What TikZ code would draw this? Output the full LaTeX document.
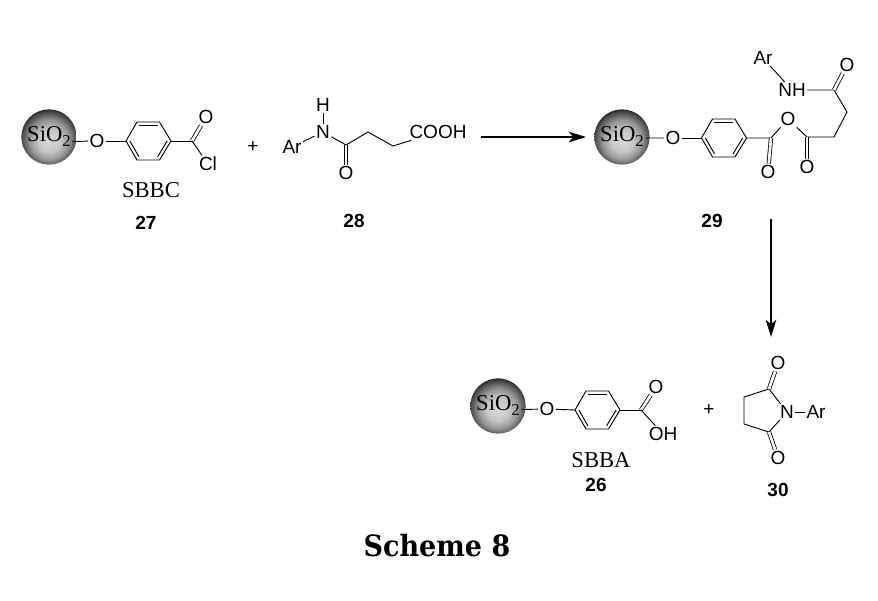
\documentclass[tikz,border=0pt]{standalone}
\usepackage{fontspec}
\setmainfont{Liberation Sans}
\newfontfamily\labelfont{Liberation Serif}
\newfontfamily\schemefont[FakeStretch=0.92]{DejaVu Serif}
\usetikzlibrary{arrows.meta}
\usetikzlibrary{calc}
\pgfdeclareradialshading{sphereball}{\pgfpoint{0bp}{-4bp}}{%
  color(0bp)=(black!15); color(10bp)=(black!22); color(18bp)=(black!42);
  color(24bp)=(black!68); color(28bp)=(black!90); color(31bp)=(black); color(50bp)=(black)}
\tikzset{
  atom/.style={inner sep=1pt,font=\fontsize{14.25}{16}\selectfont},
  numlabel/.style={inner sep=0pt,font=\fontsize{14.25}{16}\selectfont\bfseries},
  namelabel/.style={inner sep=0pt,font=\fontsize{17}{19}\selectfont\labelfont},
  sphere/.style={circle,inner sep=0pt,minimum size=41.5pt,shading=sphereball,
    font=\fontsize{17}{19}\selectfont\labelfont},
  bond/.style={line width=0.7pt},
  link/.style={line width=0.7pt,shorten <=-3pt},
  dbond/.style={line width=0.6pt,double,double distance=2pt},
  reaction/.style={line width=0.85pt,-{Stealth[length=13pt,width=8pt,inset=3.5pt]}}
}
% ring with its six corners named from #1
\newcommand{\phring}[3]{%
  \coordinate (#1l) at (#2-22.5,#3);
  \coordinate (#1tl) at (#2-11.5,#3-19);
  \coordinate (#1tr) at (#2+11,#3-19);
  \coordinate (#1r) at (#2+22.5,#3);
  \coordinate (#1br) at (#2+11,#3+19);
  \coordinate (#1bl) at (#2-11.5,#3+19);
  \coordinate (#1c) at (#2,#3);
  \draw [bond] (#1l) -- (#1tl) -- (#1tr) -- (#1r) -- (#1br) -- (#1bl) -- cycle;
  \draw [bond] ($(#1tl)!0.17!(#1c)$) -- ($(#1tr)!0.17!(#1c)$);
  \draw [bond] ($(#1l)!0.17!(#1c)$) -- ($(#1bl)!0.17!(#1c)$);
  \draw [bond] ($(#1r)!0.17!(#1c)$) -- ($(#1br)!0.17!(#1c)$);
}
\newcommand{\silica}{\smash{\raisebox{-3pt}{SiO}\raisebox{-6.75pt}{\fontsize{12.5}{14}\selectfont 2}}}
\begin{document}
\begin{tikzpicture}[x=0.75pt,y=0.75pt,yscale=-1,xscale=1]
\useasboundingbox (0,0) rectangle (878,600);

%compound 27
\node [sphere] (sphA) at (49,137) {\silica};
\node [atom] (oA) at (97,141) {O};
\phring{ringA}{148.5}{141}
\coordinate (cA) at (192,141);
\node [atom] (oaA) at (206,117) {O};
\node [atom] (clA) at (208,164) {Cl};
\draw [link] (sphA.-9) -- (oA);
\draw [bond] (oA) -- (ringAl);
\draw [bond] (ringAr) -- (cA);
\draw [dbond] (cA) -- (oaA);
\draw [bond] (cA) -- (clA);
\node [namelabel] (nameA) at (151,190) {SBBC};
\node [numlabel] (numA) at (146,223) {27};

%plus
\node [atom] (plusA) at (253,147) {+};

%compound 28
\node [atom] (arB) at (292,147) {Ar};
\node [atom] (nB) at (323,132) {N};
\node [atom] (hB) at (323,105) {H};
\coordinate (c1B) at (346,145);
\coordinate (c2B) at (368,132);
\coordinate (c3B) at (393,146);
\node [atom] (oB) at (346,173) {O};
\node [atom] (acidB) at (438,132) {COOH};
\draw [bond] (arB) -- (nB);
\draw [bond] (nB) -- (hB);
\draw [bond] (nB) -- (c1B) -- (c2B) -- (c3B) -- (acidB);
\draw [dbond] (c1B) -- (oB);
\node [numlabel] (numB) at (354,221) {28};

%first arrow
\coordinate (startA) at (481,137);
\coordinate (endA) at (586,137);
\draw [reaction] (startA) -- (endA);

%compound 29
\node [sphere] (sphC) at (622,137) {\silica};
\node [atom] (oC) at (673,138) {O};
\phring{ringC}{724}{138}
\coordinate (c1C) at (771,138);
\node [atom] (o1C) at (768,172) {O};
\node [atom] (o2C) at (788,119) {O};
\coordinate (c2C) at (807,137);
\node [atom] (o3C) at (807,167) {O};
\coordinate (c3C) at (834,137);
\coordinate (c4C) at (847,112);
\coordinate (c5C) at (834,90);
\node [atom] (o4C) at (847,65) {O};
\node [atom] (nhC) at (792,90) {NH};
\node [atom] (arC) at (763,58) {Ar};
\draw [link] (sphC.-2) -- (oC);
\draw [bond] (oC) -- (ringCl);
\draw [bond] (ringCr) -- (c1C) -- (o2C) -- (c2C) -- (c3C) -- (c4C) -- (c5C) -- (nhC) -- (arC);
\draw [dbond] (c1C) -- (o1C);
\draw [dbond] (c2C) -- (o3C);
\draw [dbond] (c5C) -- (o4C);
\node [numlabel] (numC) at (712,221) {29};

%second arrow
\coordinate (startB) at (771,219);
\coordinate (endB) at (771,337);
\draw [reaction] (startB) -- (endB);

%compound 26
\node [sphere] (sphD) at (498,406) {\silica};
\node [atom] (oD) at (547,409) {O};
\phring{ringD}{597.5}{410}
\coordinate (cD) at (641,410);
\node [atom] (oaD) at (656,387) {O};
\node [atom] (ohD) at (663,434) {OH};
\draw [link] (sphD.-7) -- (oD);
\draw [bond] (oD) -- (ringDl);
\draw [bond] (ringDr) -- (cD);
\draw [dbond] (cD) -- (oaD);
\draw [bond] (cD) -- (ohD);
\node [namelabel] (nameD) at (601,460) {SBBA};
\node [numlabel] (numD) at (596,485) {26};

%plus
\node [atom] (plusB) at (709,410) {+};

%compound 30
\node [atom] (nE) at (787,412) {N};
\node [atom] (arE) at (816,412) {Ar};
\coordinate (c1E) at (769,389);
\coordinate (c2E) at (744,397);
\coordinate (c3E) at (744,424);
\coordinate (c4E) at (769,432);
\node [atom] (o1E) at (778,363) {O};
\node [atom] (o2E) at (778,458) {O};
\draw [bond] (nE) -- (c1E) -- (c2E) -- (c3E) -- (c4E) -- (nE);
\draw [bond] (nE) -- (arE);
\draw [dbond] (c1E) -- (o1E);
\draw [dbond] (c4E) -- (o2E);
\node [numlabel] (numE) at (778,490) {30};

%caption
\node [inner sep=0pt,font=\fontsize{22}{24}\selectfont\schemefont\bfseries] (caption) at (437,546) {Scheme 8};

\end{tikzpicture}
\end{document}
